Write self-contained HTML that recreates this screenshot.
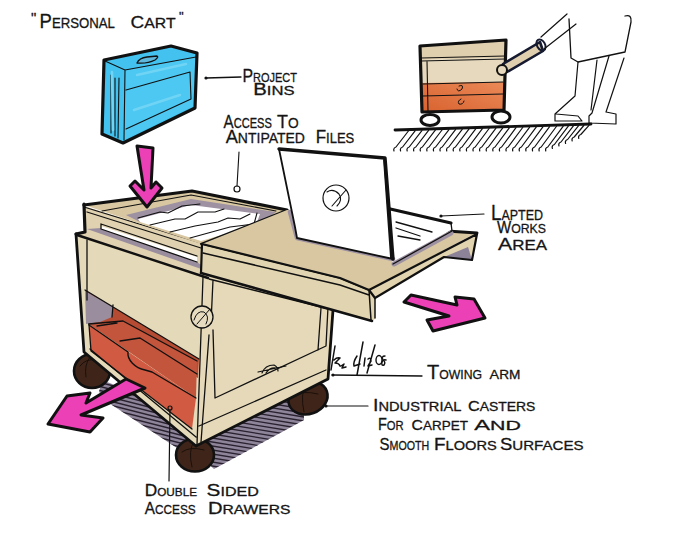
<!DOCTYPE html>
<html><head><meta charset="utf-8">
<style>
html,body{margin:0;padding:0;background:#fff;width:700px;height:541px;overflow:hidden}
svg{display:block}
text{font-family:"Liberation Sans",sans-serif;fill:#111}
.hw{fill:#151515;stroke:#151515;stroke-width:0.3px;font-family:"Liberation Sans",sans-serif}
</style></head>
<body>
<svg width="700" height="541" viewBox="0 0 700 541">
<rect x="0" y="0" width="700" height="541" fill="#fff"/>
<g fill="none" stroke="#111" stroke-linecap="round" stroke-linejoin="round">

<!-- ===== Title ===== -->

<!-- ===== Blue box ===== -->
<g id="bluebox">
<polygon points="104,60 171,46 197,53 195,108 123,143 102,134" fill="#44c2ef" stroke="none"/>
<polygon points="125,70 196,57 194,106 124,140" fill="#4cc8f2" stroke="none"/>
<polygon points="104,60 171,46 197,53 195,108 123,143 102,134" stroke-width="3.2"/>
<path d="M105,61 L125,70 L196,57 M125,70 L124,140 M126,90 L190,72 L191,99 L126,129 M111,75 L111,133 M115,78 L115,136 M119,78 L118,138" stroke-width="1.1"/>
<path d="M112,72 L113,130 M137,75 L186,64 M134,110 L180,95" stroke="#70d4f5" stroke-width="2.5" stroke-linecap="round"/>
<path d="M137,63 q2,-5 10,-6 l10,-1 q2,1 -2,4 q-8,4 -18,3 z" fill="#5fb8dc" stroke-width="1.3"/>
</g>

<!-- Project bins label -->
<path d="M206,78 L241,77" stroke-width="1.3"/>
<circle cx="206" cy="78" r="1.6" fill="#111" stroke="none"/>

<!-- Access label -->
<path d="M239,152 L237,186" stroke-width="1.1"/>
<circle cx="237" cy="189" r="3" stroke-width="1.2"/>

<!-- ===== Small cart scene ===== -->
<g id="smallcart">
<!-- hatch floor -->
<path d="M394.0,151.0 q-1,-3 2,-4.0 L408.4,131.0 M400.6,151.0 q-1,-3 2,-4.0 L415.1,130.8 M407.2,151.0 q-1,-3 2,-4.0 L421.9,130.6 M413.8,151.0 q-1,-3 2,-4.0 L428.6,130.4 M420.4,151.0 q-1,-3 2,-4.0 L435.3,130.2 M427.0,151.0 q-1,-3 2,-4.0 L442.0,130.0 M433.6,151.0 q-1,-3 2,-4.0 L448.8,129.8 M440.2,151.0 q-1,-3 2,-4.0 L455.5,129.6 M446.8,151.0 q-1,-3 2,-4.0 L462.2,129.4 M453.4,151.0 q-1,-3 2,-4.0 L468.9,129.2 M460.0,151.0 q-1,-3 2,-4.0 L475.7,128.9 M466.6,151.0 q-1,-3 2,-4.0 L482.4,128.7 M473.2,151.0 q-1,-3 2,-4.0 L489.1,128.5 M479.8,151.0 q-1,-3 2,-4.0 L495.8,128.3 M486.4,151.0 q-1,-3 2,-4.0 L502.6,128.1 M493.0,151.0 q-1,-3 2,-4.0 L509.3,127.9 M499.6,151.0 q-1,-3 2,-4.0 L516.0,127.7 M506.2,151.0 q-1,-3 2,-4.0 L522.7,127.5 M512.8,151.0 q-1,-3 2,-4.0 L529.5,127.3 M519.4,151.0 q-1,-3 2,-4.0 L536.2,127.1 M526.0,151.0 q-1,-3 2,-4.0 L542.9,126.9 M532.6,151.0 q-1,-3 2,-4.0 L549.6,126.7 M539.2,151.0 q-1,-3 2,-4.0 L556.4,126.5 M545.8,151.0 q-1,-3 2,-4.0 L563.1,126.3 M552.4,148.5 q-1,-3 2,-4.0 L568.3,126.1 M559.0,146.0 q-1,-3 2,-4.0 L573.4,125.9 M565.6,143.5 q-1,-3 2,-4.0 L578.6,125.7 M572.2,141.0 q-1,-3 2,-4.0 L583.8,125.5 M578.8,138.5 q-1,-3 2,-4.0 L589.0,125.3 " stroke-width="1.2"/>
<path d="M395,130 L591,124" stroke-width="2.8"/>
<!-- cart body -->
<polygon points="420,46 506,40 505,58 421,60" fill="#e0cfae" stroke="none"/>
<polygon points="421,60 505,58 504,83 421,84" fill="#e6d9bd" stroke="none"/>
<defs><linearGradient id="og" x1="0" y1="1" x2="1" y2="0"><stop offset="0" stop-color="#d8622f"/><stop offset="1" stop-color="#ea8a58"/></linearGradient></defs>
<polygon points="421,83 504,82 504,110 422,112" fill="url(#og)" stroke="none"/>
<polygon points="420,46 506,40 504,110 422,112" stroke-width="3.2"/>
<path d="M421,58 L505,56 M421,61 L505,59 M427,61 L428,111 M423,84 L503,82 M423,96 L503,94" stroke-width="1.1"/>
<path d="M459,86 q5,-2 3,3 q-4,4 -5,0 M461,99 q-4,2 -2,5 q4,1 5,-3" stroke-width="1"/>
<!-- wheels -->
<ellipse cx="430" cy="120" rx="9" ry="5.5" fill="#fff" stroke-width="3"/>
<ellipse cx="501" cy="117" rx="9" ry="6" fill="#fff" stroke-width="3"/>
<!-- towing arm -->
<polygon points="503,64 540,42 543,51 507,72" fill="#e0cfae" stroke="#151a30" stroke-width="2.6"/>
<ellipse cx="541" cy="45" rx="4" ry="6" transform="rotate(-30 541 45)" fill="none" stroke="#151a30" stroke-width="2"/>
<circle cx="502" cy="70" r="5" fill="#e6d9bd" stroke-width="2"/>
<!-- person -->
<path d="M541,37 L567,14 M544,49 L576,24" stroke-width="1.2"/>
<path d="M569,19 L571,58 L578,62 L625,52 L631,22 Q632,14 625,16" stroke-width="1.3"/>
<path d="M578,62 L575,96 L555,114 L555,121 L582,121 L578,116 L556,114 M597,60 L591,110 M609,56 L592,113 L589,116 L589,123 L616,124 L616,114 L606,112 L624,58" stroke-width="1.2"/>
</g>

<!-- ===== Main cart ===== -->
<g id="maincart">
<!-- shadow -->
<defs>
<clipPath id="shL"><polygon points="102,380 135,393 190,440 180,450 112,405 99,392"/></clipPath>
<clipPath id="shR"><polygon points="196,446 291,398 304,408 304,420 214,469 204,460"/></clipPath>
</defs>
<polygon points="102,380 135,393 190,440 180,450 112,405 99,392" fill="#8f859a" stroke="none"/>
<polygon points="196,446 291,398 304,408 304,420 214,469 204,460" fill="#8f859a" stroke="none"/>
<path clip-path="url(#shL)" d="M90,360 L200,388 M90,364 L200,392 M90,368 L200,396 M90,372 L200,400 M90,376 L200,404 M90,380 L200,408 M90,384 L200,412 M90,388 L200,416 M90,392 L200,420 M90,396 L200,424 M90,400 L200,428 M90,404 L200,432 M90,408 L200,436 M90,412 L200,440 M90,416 L200,444 M90,420 L200,448 M90,424 L200,452 M90,428 L200,456 M90,432 L200,460 M90,436 L200,464 M90,440 L200,468 M90,444 L200,472 M90,448 L200,476 M90,452 L200,480 M90,456 L200,484 " stroke="#2a2230" stroke-width="1.3"/>
<path clip-path="url(#shR)" d="M200,380 L310,398 M200,384 L310,402 M200,388 L310,406 M200,392 L310,410 M200,396 L310,414 M200,400 L310,418 M200,404 L310,422 M200,408 L310,426 M200,412 L310,430 M200,416 L310,434 M200,420 L310,438 M200,424 L310,442 M200,428 L310,446 M200,432 L310,450 M200,436 L310,454 M200,440 L310,458 M200,444 L310,462 M200,448 L310,466 M200,452 L310,470 M200,456 L310,474 M200,460 L310,478 M200,464 L310,482 M200,468 L310,486 M200,472 L310,490 M200,476 L310,494 " stroke="#2a2230" stroke-width="1.3"/>
<!-- wheels -->
<ellipse cx="92" cy="371" rx="18" ry="17" fill="#3f2519" stroke="#111" stroke-width="2.6"/>
<path d="M80,366 q6,-8 16,-6 M90,357 q-6,8 -4,20" stroke="#1a0f0a" stroke-width="1"/>
<ellipse cx="195" cy="455" rx="19" ry="16.5" fill="#3f2519" stroke="#111" stroke-width="2.6"/>
<path d="M182,452 q8,-6 22,-2 M194,441 q-6,10 -2,26" stroke="#1a0f0a" stroke-width="1"/>
<ellipse cx="308" cy="398" rx="20" ry="16" transform="rotate(-20 308 398)" fill="#3f2519" stroke="#111" stroke-width="2.6"/>
<path d="M294,396 q8,-6 24,-2 M306,384 q-6,10 -2,28" stroke="#1a0f0a" stroke-width="1"/>

<!-- lower body front-left face -->
<polygon points="76,232 205,272 209,279 196,446 84,352" fill="#e4d9b9" stroke="none"/>
<!-- right face -->
<polygon points="201,272 334,308 328,379 196,446" fill="#e5d9b9" stroke="none"/>
<!-- cavity -->
<polygon points="85,290 113,307 199,359 198,378 88,323" fill="#b44b32" stroke="none"/>
<polygon points="85,291 113,307 112,317 100,322 86,324" fill="#9a8e9e" stroke="none"/>
<!-- drawer -->
<polygon points="88.6,324 123,321 197,361 196,398" fill="#c2553c" stroke="none"/>
<polygon points="89,325 196,398 192,429 91,351" fill="#d05a42" stroke="none"/>
<path d="M85,290 L199,359 M113,305 L112,317 M88.6,324 L123,321 L197,361 M97,326 L117,323 M120,341 L140,338 L197,374 M91,351 L192,429 M89,325 L91,351" stroke-width="1.3"/>
<path d="M89,325 L128,352 C127,360 135,368 145,370 L152,372 L196,398" stroke-width="1.4"/>
<!-- body outlines -->
<path d="M76,234 L84,352 L196,446 L328,379 L333,310" stroke-width="2.8"/>
<path d="M209,279 L333,310 M87,240 L87,300 M203,277 L197,445 M213,280 L211,323 M213,330 L215,398 L326,346 L328,307 M321,308 L318,350 M199,426 L326,370 M90,349 L196,437 M209,335 L201,442" stroke-width="1.3"/>
<!-- knob -->
<circle cx="202" cy="317" r="11" fill="#e7dcc0" stroke-width="1.3"/>
<path d="M194,320 q3,-10 10,-8 q6,4 2,12 M197,324 L210,309" stroke-width="1"/>
<!-- towing handle -->
<path d="M262,373 q3,-8 12,-8 q4,2 4,6 M266,373 q4,-6 10,-5 M258,372 L286,366" stroke-width="1.2"/>

<!-- upper box front face -->
<polygon points="76,234 85,231 84,206 201,243 202,274" fill="#e0d2b0" stroke="none"/>
<polygon points="87,229 101,228 197,262 204,267 204,270" fill="#9a8e9e" stroke="none"/>
<path d="M101,226 L197,257 L197,262 L101,229 Z" fill="#fff" stroke="none"/>
<path d="M84,207 L201,243 M87,212 L201,248 M101,224 L197,256 M101,224 L101,229 L197,262" stroke-width="1.3"/>
<path d="M77,235 L208,278" stroke-width="2.4"/>
<path d="M84,204 L85,232 L76,234" stroke-width="3.2"/>
<!-- file box top -->
<polygon points="84,205 192,191 287,210 201,244" fill="#d8c7a1" stroke="none"/>
<polygon points="126,215 191,199 276,212 258,226 140,222" fill="#9d91a2" stroke="none"/>
<polygon points="138,219 191,205 260,214 256,225 201,241 140,222" fill="#fff" stroke="none"/>
<path d="M84,205 L192,191 L287,210" stroke-width="3.2"/>
<path d="M287,210 L201,244" stroke-width="2"/>
<path d="M102,211 L191,195 L276,211 M138,218 L160,212 L168,213 L182,206 L200,204 M150,225 L175,219 L185,219 L198,212 L215,212 L224,209 M170,232 L195,226 L218,222 L228,218 L240,219 L250,214 M190,238 L230,227 L254,224 L257,213" stroke-width="1.1"/>

<!-- platform front face -->
<polygon points="202,244 340,278 369,290 375,296 375,319 372,321 201,273" fill="#e1d4b0" stroke="none"/>
<path d="M202,244 L340,278 L369,290 M203,253 L340,285 L369,295 M369,290 L371,320 M375,298 L375,318" stroke-width="1.5"/>
<path d="M201,273 L372,321" stroke-width="2.6"/>
<path d="M202,244 L201,273" stroke-width="2.2"/>
<!-- platform top face -->
<polygon points="202,244 287,210 476,233 369,290 340,278" fill="#d8c7a1" stroke="none"/>
<!-- shelf front -->
<polygon points="369,290 477,234 472,260 444,257 375,298" fill="#e2d4af" stroke="none"/>
<polygon points="444,257 468,247 472,260" fill="#8d8398" stroke="none"/>
<path d="M202,244 L340,278 L369,290 L477,234 L472,260 M375,298 L444,257 L472,260 M369,290 L375,298" stroke-width="2.2"/>
<path d="M447,231 L477,233" stroke-width="3"/>

<!-- laptop base -->
<polygon points="388,210 451,223 451,230 393,264 391,259" fill="#fff" stroke="none"/>
<path d="M394,264 L451,233" stroke="#9d91a2" stroke-width="5"/>
<path d="M451,223 L452,231 L393,264 M396,222 L432,232 M396,228 L420,236 M398,236 L420,240" stroke-width="1.3"/>
<path d="M386,208 L451,223" stroke-width="3.2"/>
<!-- laptop screen -->
<path d="M290,212 L297,238 L393,259" stroke="#9d91a2" stroke-width="4.5"/>
<polygon points="279,149 385,158 393,259 297,238 295,227" fill="#fff" stroke="none"/>
<path d="M279,149 L385,158 L393,259" stroke-width="3.4"/>
<path d="M279,149 L295,227 L297,238 L393,259 M384,160 L391,258" stroke-width="1.8"/>
<circle cx="336" cy="198" r="13" stroke-width="1.2"/>
<path d="M327,192 q6,-4 12,2 q4,6 -2,12 M332,206 L346,190" stroke-width="1.1"/>
</g>

<!-- Down arrow -->
<polygon points="137,146 153,148 151,188 156,182 162,188 147,207 130,186 135,181 144,190" fill="#ec40b6" stroke-width="3"/>
<!-- Right arrow -->
<polygon points="411,295 457,305 455,297 474,299 485,318 433,331 427,320 449,316 404,302" fill="#ec40b6" stroke-width="3"/>
<!-- Left arrow -->
<polygon points="126,379 145,388 81,415 103,418 90,432 48,424 67,396 90,393 86,403" fill="#ec40b6" stroke-width="3"/>

<!-- labels right -->
<path d="M441,216 L484,214" stroke-width="1.2"/>
<circle cx="441" cy="216" r="1.6" fill="#111" stroke="none"/>

<path d="M332,375 L422,376" stroke-width="1.3"/>
<circle cx="333" cy="375" r="1.5" fill="#111" stroke="none"/>
<path d="M335,346 L331,370 M334,360 q3,-3 6,-2 l-5,5 q4,0 5,3 M341,366 l3,-2 l-2,4 l4,-1" stroke-width="1.5"/>
<path d="M357,356 q-4,6 -3,10 l6,-2 M363,342 L357,375 M365,358 l-1,8 M368,359 q3,-2 3,2 l-3,5 l4,-1 M375,345 L367,373" stroke-width="1.5"/>
<ellipse cx="379" cy="360" rx="3" ry="4.5" stroke-width="1.4"/>
<path d="M385,356 q-4,0 -2,4 q3,2 1,5 q-3,1 -2,-3 q1,-3 4,-2" stroke-width="1.4"/>


<path d="M326,406 L368,406" stroke-width="1.2"/>
<circle cx="326" cy="406" r="1.6" fill="#111" stroke="none"/>

<path d="M170,410 L169,481" stroke-width="1.2"/><circle cx="170" cy="408" r="2" stroke-width="1.2"/>
<!-- handwritten labels -->
<text class="hw" x="39.6" y="28.0" textLength="75.3" lengthAdjust="spacingAndGlyphs"><tspan font-size="20.3">P</tspan><tspan font-size="14.5">ERSONAL</tspan></text>
<text class="hw" x="130.6" y="28.0" textLength="45.0" lengthAdjust="spacingAndGlyphs"><tspan font-size="17.4">C</tspan><tspan font-size="14.5">ART</tspan></text>
<text class="hw" x="242.4" y="81.5" textLength="54.6" lengthAdjust="spacingAndGlyphs"><tspan font-size="18.9">P</tspan><tspan font-size="13.1">ROJECT</tspan></text>
<text class="hw" x="253.3" y="95.0" textLength="41.3" lengthAdjust="spacingAndGlyphs"><tspan font-size="16.0">B</tspan><tspan font-size="13.1">INS</tspan></text>
<text class="hw" x="223.6" y="127.5" textLength="48.2" lengthAdjust="spacingAndGlyphs"><tspan font-size="18.9">A</tspan><tspan font-size="13.8">CCESS</tspan></text>
<text class="hw" x="277.0" y="127.5" textLength="21.6" lengthAdjust="spacingAndGlyphs"><tspan font-size="18.9">T</tspan><tspan font-size="14.5">O</tspan></text>
<text class="hw" x="225.7" y="142.5" textLength="79.3" lengthAdjust="spacingAndGlyphs"><tspan font-size="18.9">A</tspan><tspan font-size="14.5">NTIPATED</tspan></text>
<text class="hw" x="315.7" y="142.5" textLength="38.6" lengthAdjust="spacingAndGlyphs"><tspan font-size="18.9">F</tspan><tspan font-size="14.5">ILES</tspan></text>
<text class="hw" x="491.0" y="220.0" textLength="52.0" lengthAdjust="spacingAndGlyphs"><tspan font-size="21.8">L</tspan><tspan font-size="14.5">APTED</tspan></text>
<text class="hw" x="497.0" y="233.0" textLength="49.0" lengthAdjust="spacingAndGlyphs"><tspan font-size="16.0">W</tspan><tspan font-size="13.1">ORKS</tspan></text>
<text class="hw" x="498.0" y="250.0" textLength="49.0" lengthAdjust="spacingAndGlyphs"><tspan font-size="17.4">A</tspan><tspan font-size="13.8">REA</tspan></text>
<text class="hw" x="427.0" y="379.0" textLength="55.0" lengthAdjust="spacingAndGlyphs"><tspan font-size="20.3">T</tspan><tspan font-size="12.4">OWING</tspan></text>
<text class="hw" x="489.6" y="379.0" textLength="30.8" lengthAdjust="spacingAndGlyphs"><tspan font-size="13.1">A</tspan><tspan font-size="12.4">RM</tspan></text>
<text class="hw" x="373.0" y="411.0" textLength="88.4" lengthAdjust="spacingAndGlyphs"><tspan font-size="16.7">I</tspan><tspan font-size="12.4">NDUSTRIAL</tspan></text>
<text class="hw" x="467.9" y="411.0" textLength="67.5" lengthAdjust="spacingAndGlyphs"><tspan font-size="14.5">C</tspan><tspan font-size="12.4">ASTERS</tspan></text>
<text class="hw" x="377.9" y="430.0" textLength="25.7" lengthAdjust="spacingAndGlyphs"><tspan font-size="16.0">F</tspan><tspan font-size="12.4">OR</tspan></text>
<text class="hw" x="411.6" y="430.0" textLength="56.3" lengthAdjust="spacingAndGlyphs"><tspan font-size="14.5">C</tspan><tspan font-size="12.4">ARPET</tspan></text>
<text class="hw" x="474.3" y="430.0" textLength="46.6" lengthAdjust="spacingAndGlyphs"><tspan font-size="14.5">A</tspan><tspan font-size="13.1">ND</tspan></text>
<text class="hw" x="379.5" y="449.5" textLength="49.8" lengthAdjust="spacingAndGlyphs"><tspan font-size="17.4">S</tspan><tspan font-size="12.4">MOOTH</tspan></text>
<text class="hw" x="434.0" y="449.5" textLength="62.8" lengthAdjust="spacingAndGlyphs"><tspan font-size="16.0">F</tspan><tspan font-size="12.4">LOORS</tspan></text>
<text class="hw" x="500.0" y="449.5" textLength="83.6" lengthAdjust="spacingAndGlyphs"><tspan font-size="16.0">S</tspan><tspan font-size="13.1">URFACES</tspan></text>
<text class="hw" x="144.7" y="495.6" textLength="52.3" lengthAdjust="spacingAndGlyphs"><tspan font-size="16.0">D</tspan><tspan font-size="10.9">OUBLE</tspan></text>
<text class="hw" x="206.6" y="495.6" textLength="52.2" lengthAdjust="spacingAndGlyphs"><tspan font-size="16.0">S</tspan><tspan font-size="12.4">IDED</tspan></text>
<text class="hw" x="144.7" y="513.9" textLength="51.0" lengthAdjust="spacingAndGlyphs"><tspan font-size="16.0">A</tspan><tspan font-size="12.4">CCESS</tspan></text>
<text class="hw" x="207.9" y="513.9" textLength="82.5" lengthAdjust="spacingAndGlyphs"><tspan font-size="16.0">D</tspan><tspan font-size="12.4">RAWERS</tspan></text>
<text class="hw" x="31" y="23" font-size="15">"</text>
<text class="hw" x="179" y="21" font-size="13">"</text>
</g>
</svg>
</body></html>
